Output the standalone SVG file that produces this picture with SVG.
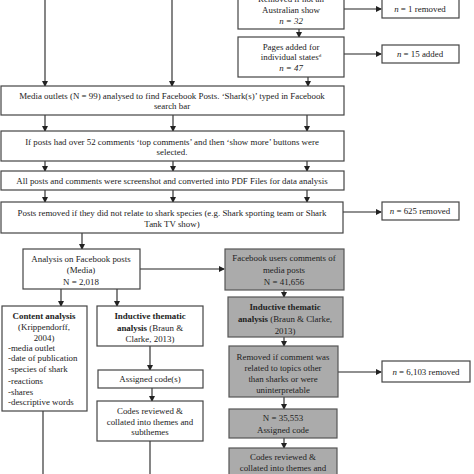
<svg xmlns="http://www.w3.org/2000/svg" width="474" height="474" viewBox="0 0 474 474">
<defs>
<marker id="ah" markerWidth="6" markerHeight="6" refX="5" refY="3" orient="auto" markerUnits="userSpaceOnUse">
<path d="M0,0 L6,3 L0,6 z" fill="#222"/>
</marker>
<style>
.b{fill:#fff;stroke:#444;stroke-width:1.2}
.g{fill:#ababab;stroke:#555;stroke-width:1.2}
text{font-family:"Liberation Serif","Times New Roman",serif;font-size:8.9px;fill:#222;text-anchor:middle}
.l{text-anchor:start}
.bd{font-weight:bold}
.c line{stroke:#222;stroke-width:1.1}
.c .a{marker-end:url(#ah)}
</style>
</defs>
<rect width="474" height="474" fill="#fff"/>
<g class="c" id="connectors">
<line class="a" x1="45" y1="0" x2="45" y2="86"/>
<line class="a" x1="172" y1="0" x2="172" y2="86"/>
<line class="a" x1="299" y1="29" x2="299" y2="37"/>
<line class="a" x1="308" y1="77" x2="308" y2="86"/>
<line class="a" x1="344" y1="9" x2="381" y2="9"/>
<line class="a" x1="344" y1="54" x2="381" y2="54"/>
<line class="a" x1="45" y1="115" x2="45" y2="131"/>
<line class="a" x1="173" y1="115" x2="173" y2="131"/>
<line class="a" x1="307" y1="115" x2="307" y2="131"/>
<line class="a" x1="45" y1="161" x2="45" y2="171"/>
<line class="a" x1="173" y1="161" x2="173" y2="171"/>
<line class="a" x1="307" y1="161" x2="307" y2="171"/>
<line class="a" x1="45" y1="190" x2="45" y2="202"/>
<line class="a" x1="173" y1="190" x2="173" y2="202"/>
<line class="a" x1="307" y1="190" x2="307" y2="202"/>
<line class="a" x1="343" y1="212" x2="381" y2="212"/>
<line class="a" x1="82" y1="233" x2="82" y2="249"/>
<line class="a" x1="140" y1="269" x2="224" y2="269"/>
<line class="a" x1="61" y1="289" x2="61" y2="306"/>
<line class="a" x1="117" y1="289" x2="117" y2="306"/>
<line x1="43" y1="411" x2="43" y2="474"/>
<line class="a" x1="150" y1="346" x2="150" y2="370"/>
<line class="a" x1="152" y1="388" x2="152" y2="401"/>
<line x1="150" y1="441" x2="150" y2="474"/>
<line class="a" x1="284" y1="290" x2="284" y2="297"/>
<line class="a" x1="284" y1="337" x2="284" y2="346"/>
<line class="a" x1="284" y1="397" x2="284" y2="409"/>
<line class="a" x1="284" y1="438" x2="284" y2="448"/>
<line class="a" x1="338" y1="372" x2="381" y2="372"/>
</g>
<g id="n32"><rect class="b" x="238" y="-20" width="106" height="49"/>
<text x="291" y="2">Removed if not an</text><text x="291" y="13">Australian show</text><text x="291" y="24" font-style="italic">n = 32</text></g>
<g id="rem1"><rect class="b" x="382" y="-10" width="77" height="28"/><text x="420" y="12"><tspan font-style="italic">n</tspan> = 1 removed</text></g>
<g id="pages"><rect class="b" x="238" y="37" width="106" height="40"/>
<text x="291" y="50">Pages added for</text><text x="291" y="60">individual states<tspan font-size="5" dy="-3">d</tspan></text><text x="291" y="71" font-style="italic">n = 47</text></g>
<g id="add15"><rect class="b" x="382" y="45" width="77" height="18"/><text x="420" y="57"><tspan font-style="italic">n</tspan> = 15 added</text></g>
<g id="media"><rect class="b" x="1" y="86" width="343" height="29"/>
<text x="172" y="99">Media outlets (N = 99) analysed to find Facebook Posts. ‘Shark(s)’ typed in Facebook</text><text x="172" y="109">search bar</text></g>
<g id="ifposts"><rect class="b" x="1" y="131" width="343" height="30"/>
<text x="172" y="145">If posts had over 52 comments ‘top comments’ and then ‘show more’ buttons were</text><text x="172" y="155">selected.</text></g>
<g id="allposts"><rect class="b" x="1" y="171" width="343" height="19"/>
<text x="172" y="184">All posts and comments were screenshot and converted into PDF Files for data analysis</text></g>
<g id="postsrem"><rect class="b" x="1" y="202" width="342" height="31"/>
<text x="172" y="216">Posts removed if they did not relate to shark species (e.g. Shark sporting team or Shark</text><text x="172" y="227">Tank TV show)</text></g>
<g id="rem625"><rect class="b" x="382" y="202" width="77" height="18"/><text x="420" y="214"><tspan font-style="italic">n</tspan> = 625 removed</text></g>
<g id="analysis"><rect class="b" x="23" y="249" width="117" height="40"/>
<text x="81" y="262">Analysis on Facebook posts</text><text x="81" y="273">(Media)</text><text x="81" y="285">N = 2,018</text></g>
<g id="content"><rect class="b" x="2" y="306" width="85" height="105"/>
<text x="44" y="319" class="bd">Content analysis</text><text x="44" y="330">(Krippendorff,</text><text x="44" y="341">2004)</text>
<text class="l" x="8" y="351">-media outlet</text><text class="l" x="8" y="361">-date of publication</text><text class="l" x="8" y="372">-species of shark</text><text class="l" x="8" y="384">-reactions</text><text class="l" x="8" y="395">-shares</text><text class="l" x="8" y="405">-descriptive words</text></g>
<g id="inductive"><rect class="b" x="97" y="306" width="106" height="40"/>
<text x="150" y="319" class="bd">Inductive thematic</text><text x="150" y="331"><tspan font-weight="bold">analysis</tspan> (Braun &amp;</text><text x="150" y="342">Clarke, 2013)</text></g>
<g id="assigned"><rect class="b" x="98" y="370" width="105" height="18"/><text x="150" y="382">Assigned code(s)</text></g>
<g id="codes1"><rect class="b" x="97" y="401" width="106" height="40"/>
<text x="150" y="414">Codes reviewed &amp;</text><text x="150" y="425">collated into themes and</text><text x="150" y="435">subthemes</text></g>
<g id="fbcomments"><rect class="g" x="225" y="249" width="119" height="41"/>
<text x="284" y="261">Facebook users comments of</text><text x="284" y="273">media posts</text><text x="284" y="285">N = 41,656</text></g>
<g id="inductive2"><rect class="g" x="228" y="297" width="115" height="40"/>
<text x="285" y="310" class="bd">Inductive thematic</text><text x="285" y="322"><tspan font-weight="bold">analysis</tspan> (Braun &amp; Clarke,</text><text x="285" y="334">2013)</text></g>
<g id="removed2"><rect class="g" x="229" y="346" width="109" height="51"/>
<text x="283" y="360">Removed if comment was</text><text x="283" y="371">related to topics other</text><text x="283" y="382">than sharks or were</text><text x="283" y="393">uninterpretable</text></g>
<g id="rem6103"><rect class="b" x="382" y="361" width="88" height="21"/><text x="426" y="375"><tspan font-style="italic">n</tspan> = 6,103 removed</text></g>
<g id="n35553"><rect class="g" x="229" y="409" width="108" height="29"/>
<text x="283" y="421">N = 35,553</text><text x="283" y="433">Assigned code</text></g>
<g id="codes2"><rect class="g" x="229" y="448" width="108" height="40"/>
<text x="283" y="460">Codes reviewed &amp;</text><text x="283" y="471">collated into themes and</text></g>
</svg>
